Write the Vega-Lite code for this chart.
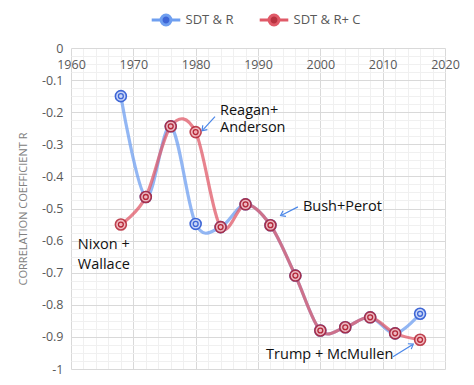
{
  "$schema": "https://vega.github.io/schema/vega-lite/v6.json",
  "width": 374,
  "height": 321,
  "autosize": "none",
  "padding": {"left": 71, "top": 48, "right": 29, "bottom": 16},
  "background": "white",
  "config": {
    "view": {"stroke": null},
    "font": "Open Sans",
    "axis": {"labelFont": "Open Sans", "titleFont": "Open Sans", "labelColor": "#595959", "labelFontSize": 12.5, "domain": false, "ticks": false}
  },
  "datasets": {
    "series": [
      {"year": 1968, "series": "SDT & R", "r": -0.150},
      {"year": 1972, "series": "SDT & R", "r": -0.464},
      {"year": 1976, "series": "SDT & R", "r": -0.244},
      {"year": 1980, "series": "SDT & R", "r": -0.548},
      {"year": 1984, "series": "SDT & R", "r": -0.558},
      {"year": 1988, "series": "SDT & R", "r": -0.487},
      {"year": 1992, "series": "SDT & R", "r": -0.552},
      {"year": 1996, "series": "SDT & R", "r": -0.709},
      {"year": 2000, "series": "SDT & R", "r": -0.880},
      {"year": 2004, "series": "SDT & R", "r": -0.870},
      {"year": 2008, "series": "SDT & R", "r": -0.839},
      {"year": 2012, "series": "SDT & R", "r": -0.889},
      {"year": 2016, "series": "SDT & R", "r": -0.828},
      {"year": 1968, "series": "SDT & R+ C", "r": -0.550},
      {"year": 1972, "series": "SDT & R+ C", "r": -0.464},
      {"year": 1976, "series": "SDT & R+ C", "r": -0.244},
      {"year": 1980, "series": "SDT & R+ C", "r": -0.262},
      {"year": 1984, "series": "SDT & R+ C", "r": -0.558},
      {"year": 1988, "series": "SDT & R+ C", "r": -0.487},
      {"year": 1992, "series": "SDT & R+ C", "r": -0.552},
      {"year": 1996, "series": "SDT & R+ C", "r": -0.709},
      {"year": 2000, "series": "SDT & R+ C", "r": -0.880},
      {"year": 2004, "series": "SDT & R+ C", "r": -0.870},
      {"year": 2008, "series": "SDT & R+ C", "r": -0.839},
      {"year": 2012, "series": "SDT & R+ C", "r": -0.889},
      {"year": 2016, "series": "SDT & R+ C", "r": -0.909}
    ],
    "notes": [
      {"label": "Reagan+", "year": 1983.9, "r": -0.196},
      {"label": "Anderson", "year": 1983.9, "r": -0.250},
      {"label": "Bush+Perot", "year": 1997.2, "r": -0.495},
      {"label": "Nixon +", "year": 1961.1, "r": -0.613},
      {"label": "Wallace", "year": 1961.1, "r": -0.677},
      {"label": "Trump + McMullen", "year": 1991.3, "r": -0.956}
    ],
    "arrows": [
      {"name": "Reagan", "year": 1981.2, "r": -0.254, "year2": 1983.1, "r2": -0.214},
      {"name": "Bush", "year": 1993.85, "r": -0.520, "year2": 1996.4, "r2": -0.495},
      {"name": "Trump", "year": 2014.7, "r": -0.925, "year2": 2011.65, "r2": -0.962}
    ]
  },
  "encoding": {
    "x": {
      "field": "year", "type": "quantitative",
      "scale": {"domain": [1960, 2020], "nice": false, "zero": false},
      "axis": {
        "title": null, "orient": "bottom", "offset": -321, "grid": true,
        "values": [1960,1962,1964,1966,1968,1970,1972,1974,1976,1978,1980,1982,1984,1986,1988,1990,1992,1994,1996,1998,2000,2002,2004,2006,2008,2010,2012,2014,2016,2018,2020],
        "labelExpr": "datum.value % 10 === 0 ? '' + datum.value : ''",
        "labelOverlap": false, "labelBound": false, "labelFlush": false,
        "labelPadding": 10,
        "gridColor": {"condition": {"test": "datum.value % 10 === 0", "value": "#d9d9d9"}, "value": "#f0f0f0"},
        "gridWidth": 1
      }
    },
    "y": {
      "field": "r", "type": "quantitative",
      "scale": {"domain": [-1, 0], "nice": false},
      "axis": {
        "title": "CORRELATION COEFFICIENT R", "grid": true,
        "titleColor": "#808080", "titleFontSize": 11, "titleFontWeight": "normal", "titlePadding": 13,
        "values": [0,-0.025,-0.05,-0.075,-0.1,-0.125,-0.15,-0.175,-0.2,-0.225,-0.25,-0.275,-0.3,-0.325,-0.35,-0.375,-0.4,-0.425,-0.45,-0.475,-0.5,-0.525,-0.55,-0.575,-0.6,-0.625,-0.65,-0.675,-0.7,-0.725,-0.75,-0.775,-0.8,-0.825,-0.85,-0.875,-0.9,-0.925,-0.95,-0.975,-1],
        "labelExpr": "abs(datum.value*10 - round(datum.value*10)) < 0.001 ? (datum.value === 0 ? '0' : '-' + format(abs(datum.value), '~g')) : ''",
        "labelOverlap": false, "labelBound": false, "labelFlush": false,
        "labelPadding": 8,
        "gridColor": {"condition": {"test": "abs(datum.value*10 - round(datum.value*10)) < 0.001", "value": "#d9d9d9"}, "value": "#f0f0f0"},
        "gridWidth": 1
      }
    }
  },
  "layer": [
    {
      "data": {"name": "series"},
      "mark": {"type": "line", "interpolate": "cardinal", "strokeWidth": 3.2, "opacity": 0.75},
      "encoding": {
        "color": {
          "field": "series", "type": "nominal",
          "scale": {"domain": ["SDT & R", "SDT & R+ C"], "range": ["#6f9ff0", "#e05a68"]},
          "legend": {
            "title": null, "orient": "none", "direction": "horizontal",
            "legendX": 88, "legendY": -35, "padding": 0,
            "symbolType": "M-2.6,0L-0.9,0M0.9,0L2.6,0M0.9,0A0.9,0.9,0,1,1,-0.9,0A0.9,0.9,0,1,1,0.9,0",
            "symbolSize": 121, "symbolStrokeWidth": 3, "symbolOpacity": 1,
            "labelOffset": 12.5, "columnPadding": 19, "labelFontSize": 13, "labelColor": "#595959", "labelFont": "Open Sans",
            "encode": {"symbols": {"update": {"fill": {"signal": "datum.value === 'SDT & R' ? '#3e66d6' : '#b8323f'"}, "fillOpacity": {"value": 1}}}}
          }
        }
      }
    },
    {
      "data": {"name": "series"},
      "transform": [{"filter": "datum.series === 'SDT & R'"}],
      "mark": {"type": "point", "shape": "circle", "size": 120, "filled": true, "fill": "#c9d6f7", "stroke": "#3e66d6", "strokeWidth": 1.6, "opacity": 1}
    },
    {
      "data": {"name": "series"},
      "transform": [{"filter": "datum.series === 'SDT & R'"}],
      "mark": {"type": "point", "shape": "circle", "size": 24, "filled": false, "stroke": "#3e66d6", "strokeWidth": 1.3, "opacity": 1}
    },
    {
      "data": {"name": "series"},
      "transform": [{"filter": "datum.series === 'SDT & R+ C'"}],
      "mark": {"type": "point", "shape": "circle", "size": 120, "filled": true, "fill": "#f2b5bb", "stroke": "#b52838", "strokeWidth": 1.6, "opacity": 0.88}
    },
    {
      "data": {"name": "series"},
      "transform": [{"filter": "datum.series === 'SDT & R+ C'"}],
      "mark": {"type": "point", "shape": "circle", "size": 24, "filled": false, "stroke": "#b52838", "strokeWidth": 1.3, "opacity": 1}
    },
    {
      "data": {"name": "notes"},
      "mark": {"type": "text", "align": "left", "baseline": "middle", "fontSize": 14.5, "font": "Open Sans", "color": "#111111"},
      "encoding": {"text": {"field": "label"}}
    },
    {
      "data": {"name": "arrows"},
      "mark": {"type": "rule", "color": "#4a86e8", "strokeWidth": 1.2},
      "encoding": {"x2": {"field": "year2"}, "y2": {"field": "r2"}}
    },
    {
      "data": {"name": "arrows"},
      "transform": [{"filter": "datum.name === 'Reagan'"}],
      "mark": {"type": "point", "shape": "M-1,0.9L0,-0.5L1,0.9", "filled": false, "stroke": "#4a86e8", "strokeWidth": 1.2, "size": 40, "angle": 223, "opacity": 1}
    },
    {
      "data": {"name": "arrows"},
      "transform": [{"filter": "datum.name === 'Bush'"}],
      "mark": {"type": "point", "shape": "M-1,0.9L0,-0.5L1,0.9", "filled": false, "stroke": "#4a86e8", "strokeWidth": 1.2, "size": 40, "angle": 243, "opacity": 1}
    },
    {
      "data": {"name": "arrows"},
      "transform": [{"filter": "datum.name === 'Trump'"}],
      "mark": {"type": "point", "shape": "M-1,0.9L0,-0.5L1,0.9", "filled": false, "stroke": "#4a86e8", "strokeWidth": 1.2, "size": 40, "angle": 58, "opacity": 1}
    }
  ]
}
